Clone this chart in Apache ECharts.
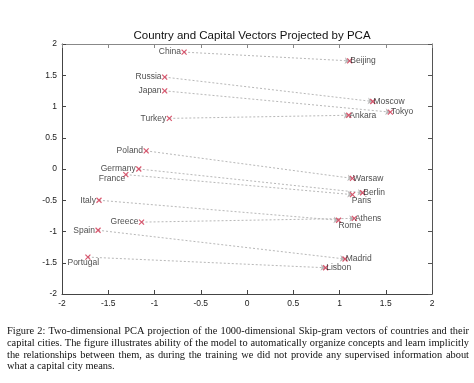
<!DOCTYPE html>
<html>
<head>
<meta charset="utf-8">
<script src="https://cdn.jsdelivr.net/npm/echarts@6/dist/echarts.min.js"></script>
<style>
html,body{margin:0;padding:0;background:#fff;}
#chart{width:474px;height:383px;}
</style>
</head>
<body>
<div id="chart"></div>
<script>
// ---- data ----
var countries = ['China','Russia','Japan','Turkey','Poland','Germany','France','Italy','Greece','Spain','Portugal'];
var countryX  = [-0.68,-0.89,-0.89,-0.84,-1.09,-1.17,-1.31,-1.60,-1.14,-1.61,-1.72];
var countryY  = [1.87,1.47,1.25,0.81,0.29,0.00,-0.09,-0.50,-0.85,-0.98,-1.41];
var capitals  = ['Beijing','Moscow','Tokyo','Ankara','Warsaw','Berlin','Paris','Rome','Athens','Madrid','Lisbon'];
var capitalX  = [1.11,1.36,1.55,1.10,1.14,1.25,1.14,0.99,1.16,1.06,0.85];
var capitalY  = [1.73,1.08,0.91,0.86,-0.15,-0.38,-0.41,-0.82,-0.79,-1.44,-1.58];
var axisTicks = [-2,-1.5,-1,-0.5,0,0.5,1,1.5,2];
var titleText = 'Country and Capital Vectors Projected by PCA';
var captionLines = [
  'Figure 2: Two-dimensional PCA projection of the 1000-dimensional Skip-gram vectors of countries and their',
  'capital cities. The figure illustrates ability of the model to automatically organize concepts and learn implicitly',
  'the relationships between them, as during the training we did not provide any supervised information about',
  'what a capital city means.'
];

// ---- styles ----
var RED = '#d0304c';
var labelFont = 'Liberation Sans';
var special = {
  'France':   {position:[2.5,2.5], align:'right', verticalAlign:'top'},
  'Portugal': {position:[-1.5,4.5], align:'center', verticalAlign:'top'},
  'Paris':    {position:[2.5,5], align:'left', verticalAlign:'top'},
  'Rome':     {position:[3,4], align:'left', verticalAlign:'top'}
};

function pts(names, xs, ys) {
  return names.map(function(n,i){
    var d = {name:n, value:[xs[i], ys[i]]};
    if (special[n]) d.label = special[n];
    return d;
  });
}
var lineData = countries.map(function(n,i){
  return {coords:[[countryX[i],countryY[i]],[capitalX[i],capitalY[i]]]};
});

var chart = echarts.init(document.getElementById('chart'));

var axisMin = axisTicks[0], axisMax = axisTicks[axisTicks.length-1], step = axisTicks[1]-axisTicks[0];
function mkAxis(pos, showLabel, lineColor) {
  return {
    type:'value', position:pos, min:axisMin, max:axisMax, interval:step,
    axisLine:{show:true, onZero:false, lineStyle:{color:lineColor, width:1}},
    axisTick:{show:true, inside:true, length:4, lineStyle:{color:lineColor}},
    splitLine:{show:false},
    axisLabel:{show:showLabel, fontSize:8.5, color:'#222', margin:5, fontFamily:labelFont}
  };
}

// caption: justified words measured by canvas
var capFont = '10.4px "Liberation Serif"';
var cv = document.createElement('canvas').getContext('2d');
cv.font = capFont;
var graphics = [];
var capLeft = 7, capRight = 469, capY = [331.5, 343.5, 355.2, 366.7];
captionLines.forEach(function(line, li){
  var words = line.split(' ');
  var justify = li < captionLines.length - 1;
  var widths = words.map(function(w){return cv.measureText(w).width;});
  var total = widths.reduce(function(a,b){return a+b;},0);
  var gap = justify ? (capRight-capLeft-total)/(words.length-1) : cv.measureText(' ').width;
  var x = capLeft;
  words.forEach(function(w,wi){
    graphics.push({type:'text', x:x, y:capY[li], silent:true,
      style:{text:w, font:capFont, fill:'#111', textVerticalAlign:'middle', verticalAlign:'middle', textAlign:'left', align:'left'}});
    x += widths[wi] + gap;
  });
});

chart.setOption({
  backgroundColor:'#fff',
  animation:false,
  title:{text:titleText, left:247, top:25, textAlign:'center',
    textStyle:{fontSize:11.5, fontWeight:'normal', color:'#111', fontFamily:labelFont}},
  grid:{left:62, right:42, top:44, bottom:89},
  xAxis:[mkAxis('bottom', true, '#444'), mkAxis('top', false, '#888')],
  yAxis:[mkAxis('left', true, '#444'), mkAxis('right', false, '#555')],
  graphic: graphics,
  series:[
    {type:'lines', coordinateSystem:'cartesian2d', xAxisIndex:0, yAxisIndex:0,
     symbol:['none','arrow'], symbolSize:5,
     lineStyle:{color:'#b8b8b8', width:1, type:[2,2], opacity:1},
     data: lineData, z:1},
    {type:'scatter', name:'countries', symbol:'path://M0,0L10,10M10,0L0,10', symbolSize:5,
     itemStyle:{color:'transparent', borderColor:RED, borderWidth:1.2},
     label:{show:true, position:'left', distance:0, formatter:'{b}', fontSize:8.5, color:'#1a1a1a', fontFamily:labelFont},
     data: pts(countries, countryX, countryY), z:3},
    {type:'scatter', name:'capitals', symbol:'path://M0,0L10,10M10,0L0,10', symbolSize:5,
     itemStyle:{color:'transparent', borderColor:RED, borderWidth:1.2},
     label:{show:true, position:'right', distance:-2.5, formatter:'{b}', fontSize:8.5, color:'#1a1a1a', fontFamily:labelFont},
     data: pts(capitals, capitalX, capitalY), z:3}
  ]
});
</script>
</body>
</html>
